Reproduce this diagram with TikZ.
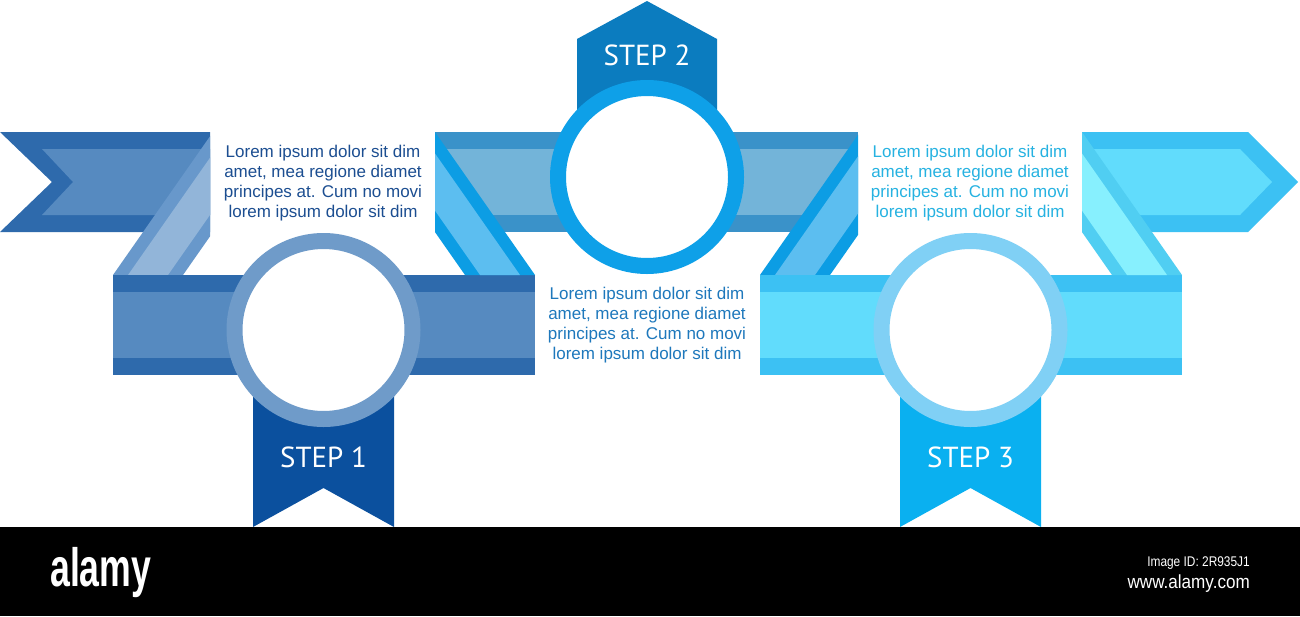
\documentclass[tikz,border=0pt]{standalone}
\usepackage{fontspec}
\setmainfont{Liberation Sans}
\newfontfamily\stepfont{PT Sans}
% step 1 palette
\definecolor{aDark}{RGB}{46,106,172}
\definecolor{aMid}{RGB}{86,138,192}
\definecolor{aDiagO}{RGB}{104,152,203}
\definecolor{aDiagC}{RGB}{146,181,217}
\definecolor{aRing}{RGB}{111,155,201}
\definecolor{aBan}{RGB}{11,80,158}
\definecolor{aText}{RGB}{28,78,145}
% step 2 palette
\definecolor{bDark}{RGB}{58,146,201}
\definecolor{bMid}{RGB}{115,180,217}
\definecolor{bDiagO}{RGB}{12,157,228}
\definecolor{bDiagC}{RGB}{92,190,240}
\definecolor{bRing}{RGB}{14,160,232}
\definecolor{bBan}{RGB}{11,124,191}
\definecolor{bText}{RGB}{30,120,188}
% step 3 palette
\definecolor{cDark}{RGB}{60,193,243}
\definecolor{cMid}{RGB}{97,220,252}
\definecolor{cDiagO}{RGB}{80,206,242}
\definecolor{cDiagC}{RGB}{135,240,254}
\definecolor{cRing}{RGB}{128,208,245}
\definecolor{cBan}{RGB}{10,176,240}
\definecolor{cText}{RGB}{38,178,225}
\tikzset{
  ringnode/.style={circle, draw=#1, line width=16pt, fill=white, minimum size=178pt, inner sep=0pt},
  steplabel/.style={text=white, inner sep=0pt, font=\stepfont\fontsize{29}{29}\selectfont},
  lorem/.style={text=#1, inner sep=0pt, align=center, font=\fontsize{17}{20}\selectfont},
  footer/.style={text=white, inner sep=0pt}
}
\begin{document}
\begin{tikzpicture}[x=1pt,y=-1pt]
\useasboundingbox (0,0) rectangle (1300,616);
\fill[white] (0,0) rectangle (1300,527);

% banners (behind)
\fill[aBan] (253,330) -- (394,330) -- (394,527) -- (323.5,488) -- (253,527) -- cycle;
\fill[bBan] (577,177) -- (577,39) -- (647,1) -- (717,39) -- (717,177) -- cycle;
\fill[cBan] (900,330) -- (1041,330) -- (1041,527) -- (970.5,488) -- (900,527) -- cycle;

% left chevron band
\fill[aDark] (0,132) -- (210,132) -- (210,232) -- (0,232) -- (52,182) -- cycle;
\fill[aMid] (42,149) -- (210,149) -- (210,215) -- (42,215) -- (73,182) -- cycle;
% fold 1
\begin{scope}
\clip (113,132) rectangle (210,275);
\fill[aDiagO] (113,275) -- (183,275) -- (283,132) -- (213,132) -- cycle;
\fill[aDiagC] (128,275) -- (168,275) -- (268,132) -- (228,132) -- cycle;
\end{scope}
% lower band 1
\fill[aDark] (113,275) rectangle (535,375);
\fill[aMid] (113,292) rectangle (535,358);

% middle band
\fill[bDark] (435,132) rectangle (858,232);
\fill[bMid] (435,149) rectangle (858,215);
% fold 2
\begin{scope}
\clip (435,132) rectangle (535,275);
\fill[bDiagO] (465,275) -- (535,275) -- (435,132) -- (365,132) -- cycle;
\fill[bDiagC] (480,275) -- (520,275) -- (420,132) -- (380,132) -- cycle;
\end{scope}
% fold 3
\begin{scope}
\clip (760,132) rectangle (858,275);
\fill[bDiagO] (760,275) -- (830,275) -- (930,132) -- (860,132) -- cycle;
\fill[bDiagC] (775,275) -- (815,275) -- (915,132) -- (875,132) -- cycle;
\end{scope}

% lower band 3
\fill[cDark] (760,275) rectangle (1182,375);
\fill[cMid] (760,292) rectangle (1182,358);
% right arrow band
\fill[cDark] (1082,132) -- (1248,132) -- (1298,182) -- (1248,232) -- (1082,232) -- cycle;
\fill[cMid] (1082,149) -- (1240,149) -- (1272,182) -- (1240,215) -- (1082,215) -- cycle;
% fold 4
\begin{scope}
\clip (1082,132) rectangle (1182,275);
\fill[cDiagO] (1112,275) -- (1182,275) -- (1082,132) -- (1012,132) -- cycle;
\fill[cDiagC] (1127,275) -- (1167,275) -- (1067,132) -- (1027,132) -- cycle;
\end{scope}

% rings
\node[ringnode=aRing] (circ1) at (323.5,330) {};
\node[ringnode=bRing] (circ2) at (647,177) {};
\node[ringnode=cRing] (circ3) at (970.5,330) {};

% step labels
\node[steplabel] (step1) at (323.5,457) {STEP 1};
\node[steplabel] (step2) at (647,55) {STEP 2};
\node[steplabel] (step3) at (970.5,457) {STEP 3};

% texts
\node[lorem=aText] (txt1) at (323,183) {Lorem ipsum dolor sit dim\\amet, mea regione diamet\\principes at. Cum no movi\\lorem ipsum dolor sit dim};
\node[lorem=bText] (txt2) at (647,325.5) {Lorem ipsum dolor sit dim\\amet, mea regione diamet\\principes at. Cum no movi\\lorem ipsum dolor sit dim};
\node[lorem=cText] (txt3) at (970,183) {Lorem ipsum dolor sit dim\\amet, mea regione diamet\\principes at. Cum no movi\\lorem ipsum dolor sit dim};

% footer bar
\fill[black] (0,527) rectangle (1300,616);
\node[footer, anchor=base west, font=\bfseries\fontsize{54}{54}\selectfont] (logo) at (50,586) {\scalebox{0.66}[1]{alamy}};
\node[footer, anchor=base east, font=\fontsize{14}{14}\selectfont] (imgid) at (1250,566) {\scalebox{0.85}[1]{Image ID: 2R935J1}};
\node[footer, anchor=base east, font=\fontsize{19}{19}\selectfont] (url) at (1250,588) {\scalebox{0.9}[1]{www.alamy.com}};
\end{tikzpicture}
\end{document}
